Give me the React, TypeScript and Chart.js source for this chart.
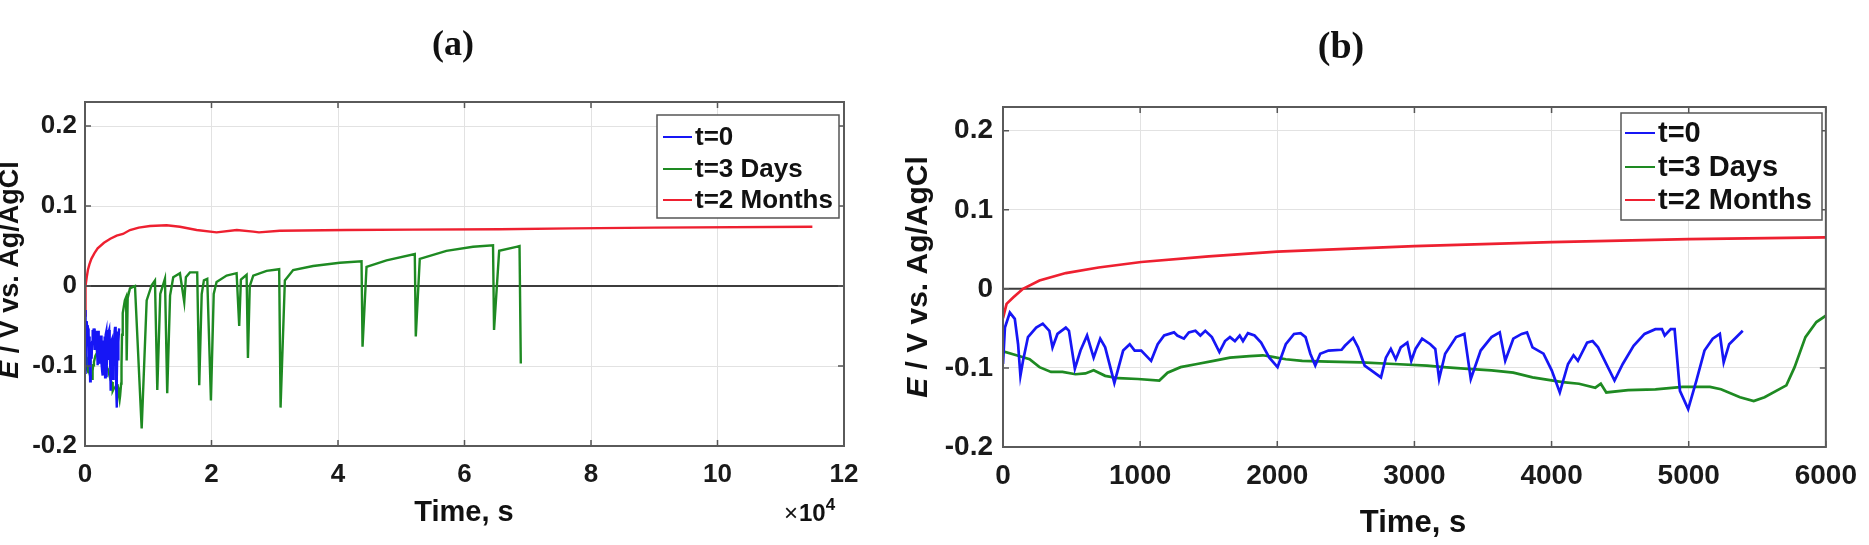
import React, { useEffect, useRef } from 'react';
import { Chart, registerables } from 'chart.js';
Chart.register(...registerables);

type Pt = [number, number];

const SANS = '"Liberation Sans", Arial, sans-serif';
const SERIF = '"Liberation Serif", "Times New Roman", serif';

const seriesNames = ['t=0', 't=3 Days', 't=2 Months'];
const seriesColors = ['#1616f5', '#1e8a22', '#ee2030'];

// t = 0 : [time (s), E (V)]
const blueT0: Pt[] = [
  [0, -0.095], [14, -0.049], [50, -0.030], [86, -0.038], [110, -0.070], [127, -0.110], [146, -0.091],
  [182, -0.061], [242, -0.049], [290, -0.044], [338, -0.053], [361, -0.074], [397, -0.057], [458, -0.049],
  [481, -0.053], [524, -0.101], [565, -0.078], [613, -0.059], [661, -0.087], [709, -0.063], [745, -0.074],
  [812, -0.119], [876, -0.078], [924, -0.070], [960, -0.078], [1008, -0.078], [1080, -0.091], [1128, -0.070],
  [1175, -0.059], [1247, -0.055], [1271, -0.059], [1319, -0.063], [1355, -0.055], [1403, -0.053], [1439, -0.059],
  [1475, -0.053], [1523, -0.061], [1578, -0.080], [1619, -0.066], [1655, -0.061], [1691, -0.066], [1726, -0.059],
  [1750, -0.066], [1786, -0.056], [1834, -0.059], [1882, -0.068], [1942, -0.087], [2002, -0.099], [2062, -0.070],
  [2122, -0.057], [2170, -0.056], [2206, -0.061], [2241, -0.082], [2277, -0.097], [2313, -0.082], [2373, -0.078],
  [2469, -0.077], [2493, -0.072], [2553, -0.062], [2589, -0.074], [2637, -0.097], [2708, -0.106], [2756, -0.112],
  [2792, -0.087], [2828, -0.076], [2864, -0.089], [2900, -0.074], [2948, -0.068], [2977, -0.091], [3008, -0.076],
  [3056, -0.063], [3116, -0.070], [3152, -0.076], [3180, -0.114], [3224, -0.082], [3304, -0.061], [3364, -0.057],
  [3411, -0.114], [3483, -0.078], [3562, -0.061], [3622, -0.055], [3662, -0.091], [3721, -0.063], [3782, -0.057],
  [3821, -0.055], [3861, -0.074], [3941, -0.082], [4001, -0.103], [4060, -0.131], [4120, -0.095], [4160, -0.084],
  [4192, -0.091], [4259, -0.068], [4299, -0.066], [4339, -0.074], [4459, -0.116], [4519, -0.095], [4598, -0.072],
  [4678, -0.057], [4757, -0.051], [4805, -0.051], [4825, -0.059], [4869, -0.051], [4897, -0.051], [4936, -0.129],
  [4996, -0.152], [5056, -0.116], [5115, -0.078], [5175, -0.063], [5227, -0.057], [5255, -0.093], [5295, -0.070],
  [5394, -0.053],
];

// t = 3 Days, first 6000 s
const greenEarly: Pt[] = [
  [0, -0.079], [98, -0.084], [194, -0.089], [266, -0.099], [350, -0.105], [434, -0.105], [529, -0.108],
  [601, -0.107], [661, -0.103], [745, -0.110], [840, -0.113], [984, -0.114], [1140, -0.116], [1200, -0.106],
  [1295, -0.099], [1415, -0.095], [1535, -0.091], [1655, -0.087], [1798, -0.085], [1894, -0.084], [1966, -0.086],
  [2062, -0.089], [2182, -0.091], [2373, -0.092], [2613, -0.093], [2852, -0.095], [3091, -0.097], [3211, -0.099],
  [3364, -0.101], [3562, -0.103], [3721, -0.106], [3861, -0.112], [4080, -0.118], [4200, -0.120], [4319, -0.125],
  [4359, -0.120], [4399, -0.131], [4558, -0.128], [4757, -0.127], [4956, -0.124], [5155, -0.124], [5235, -0.127],
  [5374, -0.137], [5474, -0.142], [5553, -0.137], [5712, -0.122], [5772, -0.099], [5851, -0.061], [5931, -0.042],
  [6000, -0.034],
];

// t = 3 Days, after 6000 s (panel a only)
const greenLate: Pt[] = [
  [6300, -0.018], [6500, -0.014], [6590, -0.093], [6750, -0.015], [7110, -0.003], [7900, 0.0], [8960, -0.178],
  [9750, -0.018], [10540, 0.001], [11060, 0.007], [11430, -0.130], [11900, -0.010], [12640, 0.009], [13000, -0.134],
  [13450, -0.012], [13950, 0.011], [15010, 0.016], [15690, -0.020], [15950, 0.011], [16590, 0.017], [17740, 0.017],
  [18060, -0.124], [18450, -0.010], [18800, 0.007], [19330, 0.009], [19910, -0.143], [20350, -0.010], [20800, 0.005],
  [22390, 0.013], [23970, 0.016], [24380, -0.050], [24650, 0.008], [25550, 0.014], [25760, -0.090], [26050, 0.0],
  [26600, 0.013], [28710, 0.019], [30700, 0.021], [30920, -0.152], [31600, 0.007], [32910, 0.020], [36070, 0.025],
  [40290, 0.029], [43720, 0.031], [43880, -0.076], [44510, 0.024], [47670, 0.032], [52140, 0.040], [52300, -0.063],
  [52930, 0.034], [57140, 0.044], [61350, 0.049], [64510, 0.051], [64670, -0.055], [65480, 0.044], [68200, 0.049],
  [68700, 0.050], [68900, -0.097],
];

// t = 2 Months, first 6000 s
const redEarly: Pt[] = [
  [0, -0.037], [26, -0.019], [74, -0.011], [146, 0.0], [266, 0.0105], [458, 0.020], [697, 0.027], [1008, 0.034],
  [1500, 0.041], [2000, 0.047], [3000, 0.054], [4000, 0.059], [5000, 0.063], [6000, 0.065],
];

// t = 2 Months, after 6000 s (panel a only)
const redLate: Pt[] = [
  [7110, 0.070], [8500, 0.073], [10270, 0.075], [12900, 0.076], [15000, 0.074], [17650, 0.070], [20800, 0.067],
  [24000, 0.070], [26600, 0.068], [27500, 0.067], [30800, 0.069], [41300, 0.070], [51800, 0.0705], [65600, 0.071],
  [77000, 0.072], [90000, 0.073], [115000, 0.074],
];

const yTicks = [-0.2, -0.1, 0, 0.1, 0.2];
const xTicksA = [0, 20000, 40000, 60000, 80000, 100000, 120000];
const xTicksB = [0, 1000, 2000, 3000, 4000, 5000, 6000];

interface PanelCfg {
  width: number;
  height: number;
  xMax: number;
  xTicks: number[];
  xFmt: (v: number) => string;
  yMin: number;
  yMax: number;
  series: Pt[][];
  pad: { top: number; right: number };
  yW: number;
  xH: number;
  tickSize: number;
  yTickPad: number;
  xTickPad: number;
  lineW: number;
  title: { text: string; x: number; y: number; size: number };
  yLabel: { x: number; y: number; size: number };
  xLabel: { x: number; y: number; size: number };
  legend: { x1: number; y1: number; x2: number; y2: number; lx1: number; lx2: number; tx: number; rows: number[]; size: number };
  exponent?: { x: number; y: number; size: number };
}

function makePlugin(c: PanelCfg) {
  return {
    id: 'deco',
    beforeDatasetsDraw(chart: any) {
      const { ctx, chartArea: a, scales } = chart;
      const y0 = scales.y.getPixelForValue(0);
      ctx.save();
      ctx.strokeStyle = '#3c3c3c';
      ctx.lineWidth = 2;
      ctx.beginPath();
      ctx.moveTo(a.left, y0);
      ctx.lineTo(a.right, y0);
      ctx.stroke();
      ctx.restore();
    },
    afterDraw(chart: any) {
      const { ctx, chartArea: a, scales } = chart;
      ctx.save();
      // inward ticks
      ctx.strokeStyle = '#555';
      ctx.lineWidth = 1.5;
      const tl = 6;
      ctx.beginPath();
      c.xTicks.forEach((v) => {
        const px = scales.x.getPixelForValue(v);
        ctx.moveTo(px, a.bottom); ctx.lineTo(px, a.bottom - tl);
        ctx.moveTo(px, a.top); ctx.lineTo(px, a.top + tl);
      });
      yTicks.forEach((v) => {
        const py = scales.y.getPixelForValue(v);
        ctx.moveTo(a.left, py); ctx.lineTo(a.left + tl, py);
        ctx.moveTo(a.right, py); ctx.lineTo(a.right - tl, py);
      });
      ctx.stroke();
      // box
      ctx.strokeStyle = '#5a5a5a';
      ctx.lineWidth = 2;
      ctx.strokeRect(a.left, a.top, a.right - a.left, a.bottom - a.top);

      // legend
      const L = c.legend;
      ctx.fillStyle = '#ffffff';
      ctx.fillRect(L.x1, L.y1, L.x2 - L.x1, L.y2 - L.y1);
      ctx.strokeStyle = '#555';
      ctx.lineWidth = 1.5;
      ctx.strokeRect(L.x1, L.y1, L.x2 - L.x1, L.y2 - L.y1);
      ctx.font = `bold ${L.size}px ${SANS}`;
      ctx.textBaseline = 'middle';
      ctx.textAlign = 'left';
      seriesNames.forEach((n, i) => {
        const ry = L.rows[i];
        ctx.strokeStyle = seriesColors[i];
        ctx.lineWidth = 2;
        ctx.beginPath();
        ctx.moveTo(L.lx1, ry); ctx.lineTo(L.lx2, ry);
        ctx.stroke();
        ctx.fillStyle = '#111';
        ctx.fillText(n, L.tx, ry + 1);
      });

      // title
      ctx.fillStyle = '#111';
      ctx.font = `bold ${c.title.size}px ${SERIF}`;
      ctx.textAlign = 'center';
      ctx.textBaseline = 'middle';
      ctx.fillText(c.title.text, c.title.x, c.title.y);

      // x label
      ctx.font = `bold ${c.xLabel.size}px ${SANS}`;
      ctx.fillText('Time, s', c.xLabel.x, c.xLabel.y);

      // exponent
      if (c.exponent) {
        const e = c.exponent;
        ctx.textAlign = 'left';
        ctx.textBaseline = 'alphabetic';
        ctx.font = `${e.size}px ${SANS}`;
        ctx.fillText('\u00d7', e.x, e.y);
        const w1 = ctx.measureText('\u00d7').width;
        ctx.font = `bold ${e.size}px ${SANS}`;
        ctx.fillText('10', e.x + w1 + 1, e.y);
        const w2 = ctx.measureText('10').width;
        ctx.font = `bold ${Math.round(e.size * 0.7)}px ${SANS}`;
        ctx.fillText('4', e.x + w1 + 1 + w2, e.y - e.size * 0.45);
      }

      // y label with italic E
      const Y = c.yLabel;
      const parts = [
        { t: 'E', f: `italic bold ${Y.size}px ${SANS}` },
        { t: ' / V vs. Ag/AgCl', f: `bold ${Y.size}px ${SANS}` },
      ];
      let total = 0;
      const widths = parts.map((p) => { ctx.font = p.f; const w = ctx.measureText(p.t).width; total += w; return w; });
      ctx.translate(Y.x, Y.y);
      ctx.rotate(-Math.PI / 2);
      ctx.textAlign = 'left';
      ctx.textBaseline = 'alphabetic';
      let cx = -total / 2;
      parts.forEach((p, i) => { ctx.font = p.f; ctx.fillText(p.t, cx, 0); cx += widths[i]; });
      ctx.restore();
    },
  };
}

function makeConfig(c: PanelCfg): any {
  const tickFont = { size: c.tickSize, weight: 'bold' as const, family: SANS };
  return {
    type: 'line',
    data: {
      datasets: c.series.map((s, i) => ({
        label: seriesNames[i],
        data: s.map(([x, y]) => ({ x, y })),
        borderColor: seriesColors[i],
        backgroundColor: seriesColors[i],
        borderWidth: c.lineW,
        pointRadius: 0,
        tension: 0,
        fill: false,
      })),
    },
    options: {
      animation: false,
      responsive: false,
      devicePixelRatio: 1,
      events: [],
      layout: { padding: { left: 0, top: c.pad.top, right: c.pad.right, bottom: 0 } },
      plugins: { legend: { display: false }, title: { display: false }, tooltip: { enabled: false } },
      scales: {
        x: {
          type: 'linear',
          min: 0,
          max: c.xMax,
          afterBuildTicks: (s: any) => { s.ticks = c.xTicks.map((v) => ({ value: v })); },
          afterFit: (s: any) => { s.height = c.xH; },
          grid: { color: '#e2e2e2', lineWidth: 1, drawTicks: false },
          border: { display: false },
          ticks: { padding: c.xTickPad, color: '#1a1a1a', font: tickFont, maxRotation: 0, autoSkip: false, callback: (v: number) => c.xFmt(v) },
        },
        y: {
          type: 'linear',
          min: c.yMin,
          max: c.yMax,
          afterBuildTicks: (s: any) => { s.ticks = yTicks.map((v) => ({ value: v })); },
          afterFit: (s: any) => { s.width = c.yW; },
          grid: { color: '#e2e2e2', lineWidth: 1, drawTicks: false },
          border: { display: false },
          ticks: { padding: c.yTickPad, color: '#1a1a1a', font: tickFont, callback: (v: number) => (Math.abs(v) < 1e-9 ? '0' : v.toFixed(1)) },
        },
      },
    },
    plugins: [makePlugin(c)],
  };
}

const panelA: PanelCfg = {
  width: 900, height: 545, xMax: 120000, xTicks: xTicksA, xFmt: (v) => String(Math.round(v / 10000)),
  yMin: -0.2, yMax: 0.23,
  series: [blueT0, [...greenEarly, ...greenLate], [...redEarly, ...redLate]],
  pad: { top: 102, right: 56 }, yW: 85, xH: 99, tickSize: 26, yTickPad: 8, xTickPad: 13, lineW: 2.4,
  title: { text: '(a)', x: 453, y: 46, size: 36 },
  yLabel: { x: 18, y: 270, size: 27 },
  xLabel: { x: 464, y: 513, size: 29 },
  legend: { x1: 657, y1: 115, x2: 839, y2: 218, lx1: 663, lx2: 692, tx: 695, rows: [137, 169, 200], size: 26 },
  exponent: { x: 784, y: 521, size: 24 },
};

const panelB: PanelCfg = {
  width: 969, height: 545, xMax: 6000, xTicks: xTicksB, xFmt: (v) => String(v),
  yMin: -0.2, yMax: 0.23,
  series: [blueT0, greenEarly, redEarly],
  pad: { top: 107, right: 31 }, yW: 103, xH: 98, tickSize: 28, yTickPad: 10, xTickPad: 12, lineW: 2.7,
  title: { text: '(b)', x: 441, y: 48, size: 38 },
  yLabel: { x: 27, y: 277, size: 30 },
  xLabel: { x: 513, y: 523, size: 31 },
  legend: { x1: 721, y1: 113, x2: 922, y2: 220, lx1: 725, lx2: 755, tx: 758, rows: [133, 167, 200], size: 29 },
};

function Panel({ cfg, left }: { cfg: PanelCfg; left: number }) {
  const ref = useRef<HTMLCanvasElement | null>(null);
  useEffect(() => {
    if (!ref.current) return;
    const chart = new Chart(ref.current, makeConfig(cfg));
    return () => chart.destroy();
  }, [cfg]);
  return (
    <canvas
      ref={ref}
      width={cfg.width}
      height={cfg.height}
      style={{ position: 'absolute', left, top: 0, width: cfg.width, height: cfg.height }}
    />
  );
}

export default function App() {
  useEffect(() => {
    document.body.style.margin = '0';
    document.body.style.background = '#ffffff';
  }, []);
  return (
    <div style={{ position: 'relative', width: 1869, height: 545, background: '#fff', overflow: 'hidden' }}>
      <Panel cfg={panelA} left={0} />
      <Panel cfg={panelB} left={900} />
    </div>
  );
}
